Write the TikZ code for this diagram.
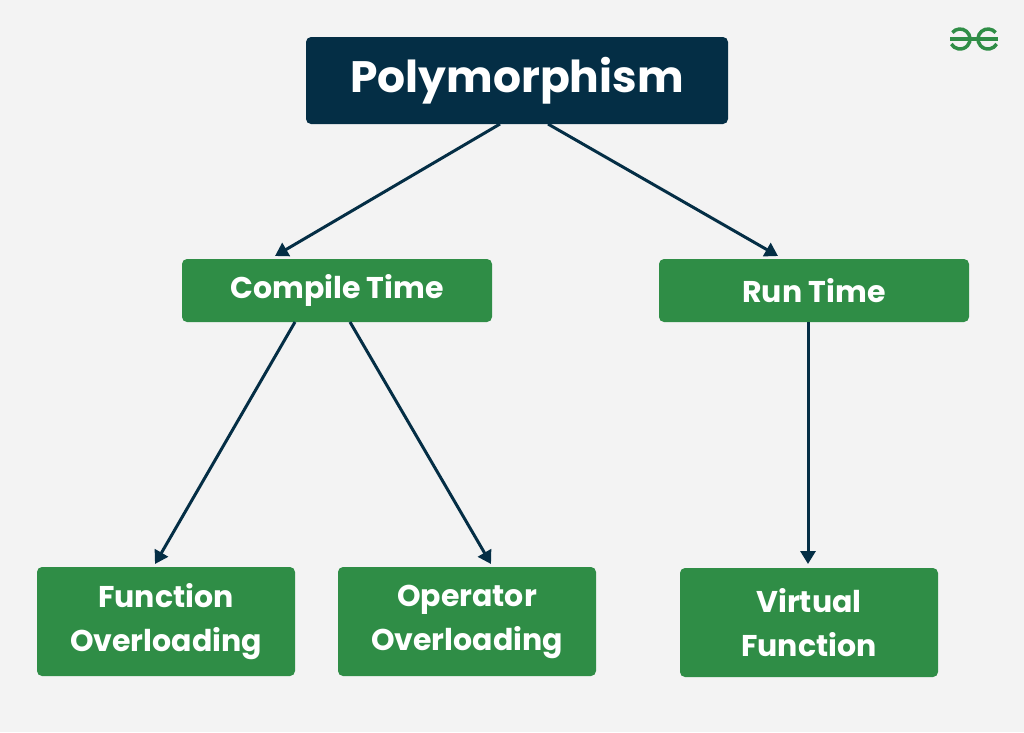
\documentclass[tikz,border=0pt]{standalone}
\usepackage{fontspec}
\setmainfont{Poppins}
\usetikzlibrary{arrows.meta}
\definecolor{bg}{HTML}{F3F3F3}
\definecolor{navy}{HTML}{042E45}
\definecolor{gfg}{HTML}{2F8D46}
\begin{document}
\begin{tikzpicture}[x=1pt,y=-1pt,
  box/.style={fill=gfg,rounded corners=5pt,text=white,font=\fontsize{30}{44}\selectfont\bfseries,align=center,inner sep=0pt},
  arr/.style={draw=navy,line width=3pt,-{Triangle[length=13pt,width=15pt]}}]
\fill[bg] (0,0) rectangle (1024,732);
\node[box,fill=navy,minimum width=422pt,minimum height=87pt,font=\fontsize{44}{50}\selectfont\bfseries] (p) at (517,80.5) {Polymorphism};
\node[box,minimum width=310pt,minimum height=63pt] (c) at (337,290.5) {Compile Time};
\node[box,minimum width=310pt,minimum height=63pt] (r) at (814,290.5) {Run Time};
\node[box,minimum width=258pt,minimum height=109pt] (f) at (166,621.5) {Function\\Overloading};
\node[box,minimum width=258pt,minimum height=109pt] (o) at (467,621.5) {Operator\\Overloading};
\node[box,minimum width=258pt,minimum height=109pt] (v) at (809,622.5) {Virtual\\Function};
\coordinate (p1) at (500,124); \coordinate (p2) at (548,124);
\coordinate (c1) at (295,322); \coordinate (c2) at (350,322);
\draw[arr] (p1) -- (275,256);
\draw[arr] (p2) -- (778,256);
\draw[arr] (c1) -- (155,564);
\draw[arr] (c2) -- (491,564);
\draw[arr] (808,322) -- (808,564);
% logo
\draw[gfg,line width=3.5pt] (950,39) -- (998,39);
\begin{scope}[shift={(960,39)},y=1pt,draw=gfg,line width=3.5pt]
\draw (140:10) arc[start angle=140,end angle=-150,radius=10pt];
\draw (28,0) ++(40:10) arc[start angle=40,end angle=330,radius=10pt];
\end{scope}
\end{tikzpicture}
\end{document}
